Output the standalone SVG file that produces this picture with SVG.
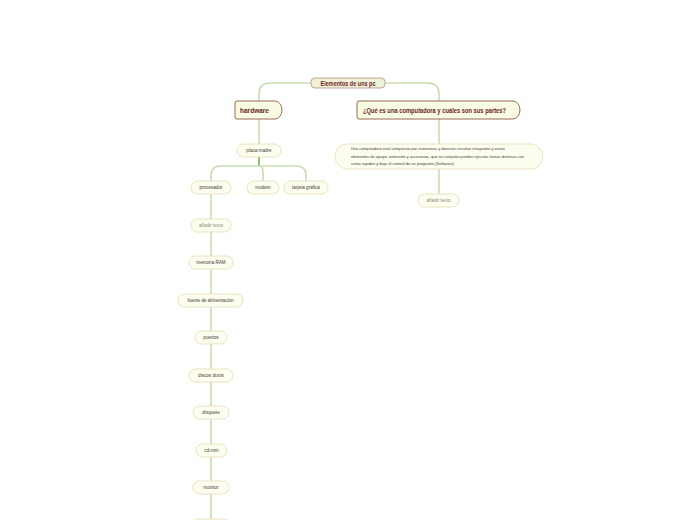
<svg xmlns="http://www.w3.org/2000/svg" width="697" height="520" viewBox="0 0 697 520">
<style>
.c{fill:none;stroke:#c9ddb2;stroke-width:1.6}
.cd{fill:none;stroke:#8fbf6a;stroke-width:2}
.n{fill:#fbfdef;stroke:#ede3bf;stroke-width:1}
.m{fill:#f6fbe2;stroke:#9a6a5c;stroke-width:1}
.t{font-family:"Liberation Sans",Arial,sans-serif;font-size:4.6px;fill:#4a3b32;text-anchor:middle}
.g{fill:#8c8a76}
.b{font-family:"Liberation Sans",Arial,sans-serif;font-weight:bold;fill:#6e1e1e}
.d{font-family:"Liberation Sans",Arial,sans-serif;font-size:4.4px;fill:#4a3b32}
</style>
<rect width="697" height="520" fill="#ffffff"/>
<g id="connectors">
<path class="c" d="M311,83 H270 Q259,83 259,94 V101"/>
<path class="c" d="M385,83 H428 Q439,83 439,94 V101"/>
<path class="c" d="M259,119 V144"/>
<path class="cd" d="M259,157 V166"/>
<path class="c" d="M259,166 H221 Q211,166 211,175 V181"/>
<path class="c" d="M259,166 Q263,166 263,172 V181"/>
<path class="c" d="M259,166 H296 Q306,166 306,175 V181"/>
<path class="c" d="M211,194 V520"/>
<path class="c" d="M439,119 V144"/>
<path class="c" d="M439,169 V194"/>
</g>
<g id="root">
<rect x="311" y="78" width="74" height="10" rx="4" fill="#eef2d8" stroke="#c3a697" stroke-width="1"/>
<text class="b" x="348" y="85.5" font-size="7" text-anchor="middle" textLength="55" lengthAdjust="spacingAndGlyphs">Elementos de uns pc</text>
</g>
<g id="hardware">
<path class="m" d="M237,101 H275 A7,9 0 0 1 275,119 H237 Q235,119 235,117 V103 Q235,101 237,101 Z"/>
<text class="b" x="240" y="112.5" font-size="7" textLength="29" lengthAdjust="spacingAndGlyphs">hardware</text>
</g>
<g id="que">
<path class="m" d="M359,101 H513 A7,9 0 0 1 513,119 H359 Q357,119 357,117 V103 Q357,101 359,101 Z"/>
<text class="b" x="363" y="112.5" font-size="7" textLength="143" lengthAdjust="spacingAndGlyphs">¿Qué es una computadora y cuáles son sus partes?</text>
</g>
<g id="descripcion">
<rect class="n" x="335" y="144" width="208" height="25" rx="12.5"/>
<text class="d" x="351" y="150" textLength="154" lengthAdjust="spacingAndGlyphs">Una computadora está compuesta por numerosos y diversos circuitos integrados y varios</text>
<text class="d" x="351" y="157.5" textLength="173" lengthAdjust="spacingAndGlyphs">elementos de apoyo, extensión y accesorios, que en conjunto pueden ejecutar tareas diversas con</text>
<text class="d" x="351" y="165" textLength="104" lengthAdjust="spacingAndGlyphs">suma rapidez y bajo el control de un programa (Software).</text>
</g>
<g id="anadir2">
<rect class="n" x="418" y="194" width="41" height="13" rx="6.5"/>
<text class="t g" x="438.5" y="202.3">añadir texto</text>
</g>
<g id="placa">
<rect class="n" x="237" y="144" width="44" height="13" rx="6.5"/>
<text class="t" x="259" y="152.3">placa madre</text>
</g>
<g id="procesador">
<rect class="n" x="191" y="181" width="40" height="13" rx="6.5"/>
<text class="t" x="211" y="189.3">procesador</text>
</g>
<g id="modem">
<rect class="n" x="247" y="181" width="32" height="13" rx="6.5"/>
<text class="t" x="263" y="189.3">modem</text>
</g>
<g id="tarjeta">
<rect class="n" x="284" y="181" width="44" height="13" rx="6.5"/>
<text class="t" x="306" y="189.3">tarjeta grafica</text>
</g>
<g id="anadir1">
<rect class="n" x="191" y="219" width="40" height="13" rx="6.5"/>
<text class="t g" x="211" y="227.3">añadir texto</text>
</g>
<g id="ram">
<rect class="n" x="189" y="256" width="44" height="13" rx="6.5"/>
<text class="t" x="211" y="264.3">memoria RAM</text>
</g>
<g id="fuente">
<rect class="n" x="178" y="294" width="65" height="13" rx="6.5"/>
<text class="t" x="210.5" y="302.3">fuente  de alimentacion</text>
</g>
<g id="puertos">
<rect class="n" x="195" y="331" width="32" height="13" rx="6.5"/>
<text class="t" x="211" y="339.3">puertos</text>
</g>
<g id="discos">
<rect class="n" x="189" y="369" width="44" height="13" rx="6.5"/>
<text class="t" x="211" y="377.3">discos duros</text>
</g>
<g id="disquete">
<rect class="n" x="193" y="406" width="36" height="13" rx="6.5"/>
<text class="t" x="211" y="414.3">disquete</text>
</g>
<g id="cdrom">
<rect class="n" x="196" y="444" width="31" height="13" rx="6.5"/>
<text class="t" x="211.5" y="452.3">cd-rom</text>
</g>
<g id="monitor">
<rect class="n" x="193" y="481" width="36" height="13" rx="6.5"/>
<text class="t" x="211" y="489.3">monitor</text>
</g>
<g id="siguiente">
<rect class="n" x="191" y="519" width="40" height="13" rx="6.5"/>
</g>
</svg>
